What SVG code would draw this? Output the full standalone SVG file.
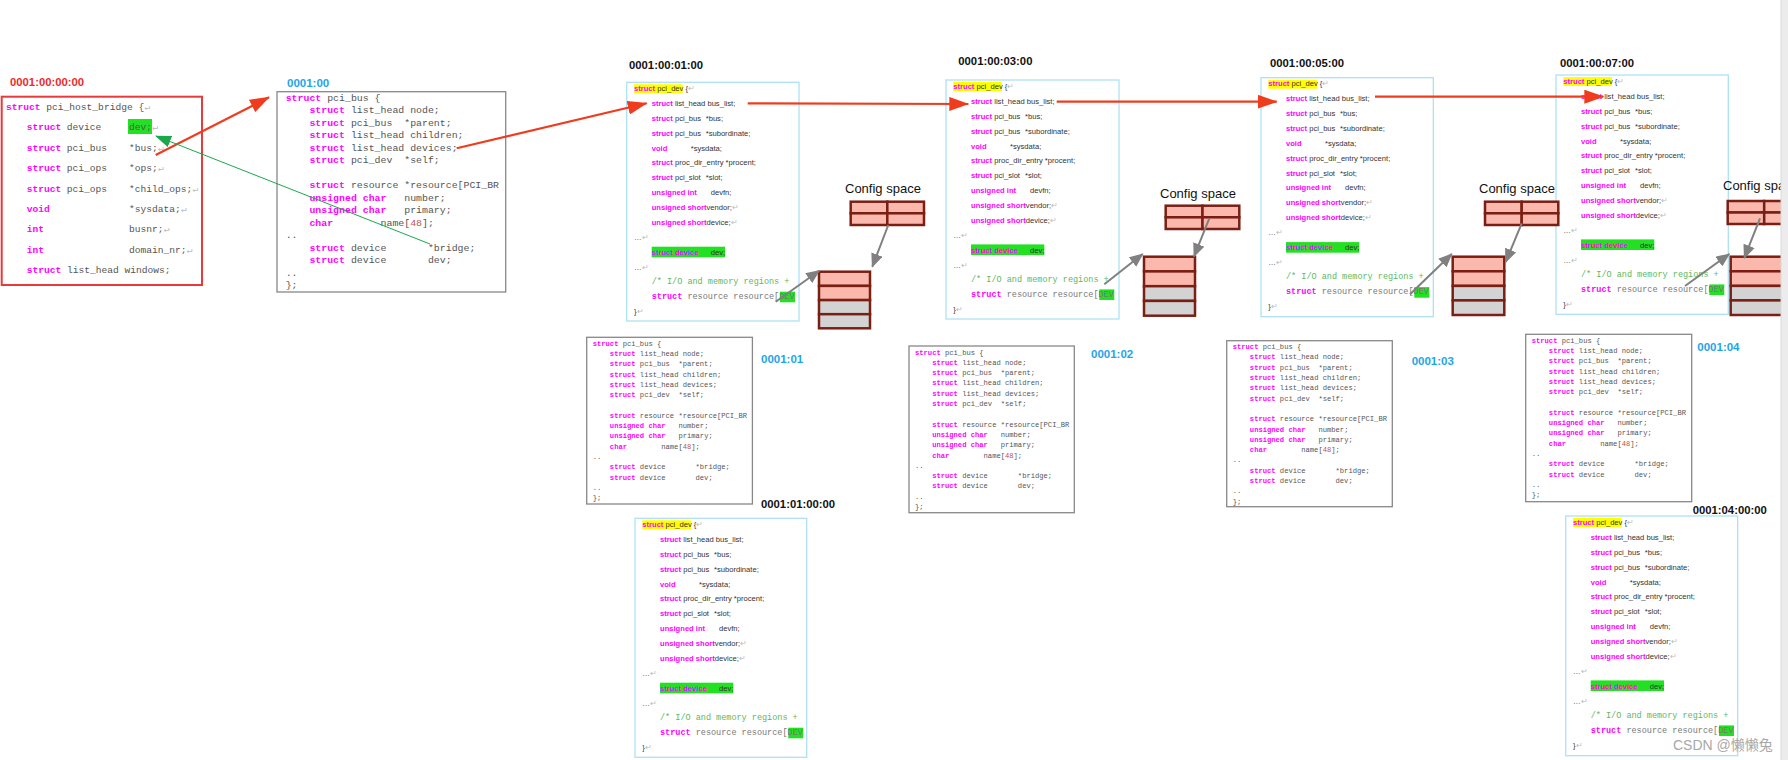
<svg xmlns="http://www.w3.org/2000/svg" width="1788" height="760" viewBox="0 0 1788 760" xml:space="preserve">
<defs>
<style>
text{white-space:pre}
.lbl{font-family:"Liberation Sans",Arial,sans-serif;font-weight:bold;font-size:11.3px;fill:#111}
.lblr{font-family:"Liberation Sans",Arial,sans-serif;font-weight:bold;font-size:11.3px;fill:#ee2a2a}
.lblb{font-family:"Liberation Sans",Arial,sans-serif;font-weight:bold;font-size:11.5px;fill:#1ea5e8}
.hb{font-family:"Liberation Mono",monospace;font-size:9.6px;fill:#555}
.mb{font-family:"Liberation Mono",monospace;font-size:9.9px;fill:#555}
.ms{font-family:"Liberation Mono",monospace;font-size:7.15px;fill:#555}
.sd{font-family:"Liberation Sans",Arial,sans-serif;font-size:7.6px;fill:#333}
.cm{font-family:"Liberation Mono",monospace;font-size:8.5px;fill:#5cb85c}
.rs{font-family:"Liberation Mono",monospace;font-size:8.5px;fill:#777}
.k{fill:#ff00ff;font-weight:bold}
.n{fill:#c0504d}
.rt{fill:#bbb;font-weight:normal}
.busbox{fill:#fff;stroke:#888;stroke-width:1.3}
.devbox{fill:#fff;stroke:#aee0f5;stroke-width:1.3}
.cfg{font-family:"Liberation Sans",Arial,sans-serif;font-size:13px;fill:#111}
.cell{fill:#fbb8ac;stroke:#7a1f14;stroke-width:2.5}
.gcell{fill:#d3d3d3;stroke:#7a1f14;stroke-width:2.5}
.red{stroke:#f03c1e;stroke-width:2.2;fill:none;marker-end:url(#ar)}
.grn{stroke:#1aa84b;stroke-width:1;fill:none;marker-end:url(#ag)}
.gry{stroke:#808080;stroke-width:2;fill:none;marker-end:url(#ay)}
</style>
<marker id="ar" markerUnits="userSpaceOnUse" markerWidth="20" markerHeight="14" refX="19" refY="7" orient="auto"><path d="M0,0 L20,7 L0,14 z" fill="#f03c1e"/></marker>
<marker id="ag" markerUnits="userSpaceOnUse" markerWidth="16" markerHeight="12" refX="15" refY="6" orient="auto"><path d="M0,0 L16,6 L0,12 z" fill="#1aa84b"/></marker>
<marker id="ay" markerUnits="userSpaceOnUse" markerWidth="14" markerHeight="12" refX="13" refY="6" orient="auto"><path d="M0,0 L14,6 L0,12 z" fill="#808080"/></marker>
</defs>
<rect width="1788" height="760" fill="#fff"/>

<g id="host-bridge">
<text class="lblr" x="10" y="85.5">0001:00:00:00</text>
<rect x="1.7" y="96.7" width="200.3" height="188.3" fill="#fff" stroke="#e83a3a" stroke-width="2"/>
<rect x="128" y="119" width="24" height="15" fill="#22e022"/>
<text class="hb" x="6" y="110.2"><tspan class="k">struct</tspan> pci_host_bridge {<tspan class="rt">↵</tspan></text>
<text class="hb" y="130.2"><tspan x="26.7" class="k">struct</tspan><tspan x="66.7">device</tspan><tspan x="129">dev;</tspan><tspan class="rt">↵</tspan></text>
<text class="hb" y="150.8"><tspan x="26.7" class="k">struct</tspan><tspan x="66.7">pci_bus</tspan><tspan x="129">*bus;</tspan><tspan class="rt">↵</tspan></text>
<text class="hb" y="171.2"><tspan x="26.7" class="k">struct</tspan><tspan x="66.7">pci_ops</tspan><tspan x="129">*ops;</tspan><tspan class="rt">↵</tspan></text>
<text class="hb" y="191.8"><tspan x="26.7" class="k">struct</tspan><tspan x="66.7">pci_ops</tspan><tspan x="129">*child_ops;</tspan><tspan class="rt">↵</tspan></text>
<text class="hb" y="211.8"><tspan x="26.7" class="k">void</tspan><tspan x="129">*sysdata;</tspan><tspan class="rt">↵</tspan></text>
<text class="hb" y="231.8"><tspan x="26.7" class="k">int</tspan><tspan x="129">busnr;</tspan><tspan class="rt">↵</tspan></text>
<text class="hb" y="252.5"><tspan x="26.7" class="k">int</tspan><tspan x="129">domain_nr;</tspan><tspan class="rt">↵</tspan></text>
<text class="hb" y="272.8"><tspan x="26.7" class="k">struct</tspan> list_head windows;</text>
</g>

<g id="bus-0001-00">
<text class="lblb" x="287" y="86.7">0001:00</text>
<g transform="translate(277,91.7)">
<rect class="busbox" width="228.7" height="200.3"/>
<text class="mb" x="8.7" y="9.5"><tspan class="k">struct</tspan> pci_bus {</text>
<text class="mb" x="8.7" y="21.8">    <tspan class="k">struct</tspan> list_head node;</text>
<text class="mb" x="8.7" y="34.3">    <tspan class="k">struct</tspan> pci_bus  *parent;</text>
<text class="mb" x="8.7" y="46.8">    <tspan class="k">struct</tspan> list_head children;</text>
<text class="mb" x="8.7" y="59.3">    <tspan class="k">struct</tspan> list_head devices;</text>
<text class="mb" x="8.7" y="71.8">    <tspan class="k">struct</tspan> pci_dev  *self;</text>
<text class="mb" x="8.7" y="96.8">    <tspan class="k">struct</tspan> resource *resource[PCI_BR</text>
<text class="mb" x="8.7" y="109.3">    <tspan class="k">unsigned char</tspan>   number;</text>
<text class="mb" x="8.7" y="121.8">    <tspan class="k">unsigned char</tspan>   primary;</text>
<text class="mb" x="8.7" y="134.3">    <tspan class="k">char</tspan>        name[<tspan class="n">48</tspan>];</text>
<text class="mb" x="8.7" y="146.8">..</text>
<text class="mb" x="8.7" y="159.3">    <tspan class="k">struct</tspan> device       *bridge;</text>
<text class="mb" x="8.7" y="171.8">    <tspan class="k">struct</tspan> device       dev;</text>
<text class="mb" x="8.7" y="184.3">..</text>
<text class="mb" x="8.7" y="196.8">};</text>
</g>
</g>

<!-- bottom pci_bus boxes -->
<g id="bus-0001-01">
<text class="lblb" x="761" y="363">0001:01</text>
<g transform="translate(586.7,337.3)">
<rect class="busbox" width="165.7" height="166.7"/>
<text class="ms" x="6" y="8.5"><tspan class="k">struct</tspan> pci_bus {</text>
<text class="ms" x="6" y="18.8">    <tspan class="k">struct</tspan> list_head node;</text>
<text class="ms" x="6" y="29.1">    <tspan class="k">struct</tspan> pci_bus  *parent;</text>
<text class="ms" x="6" y="39.4">    <tspan class="k">struct</tspan> list_head children;</text>
<text class="ms" x="6" y="49.7">    <tspan class="k">struct</tspan> list_head devices;</text>
<text class="ms" x="6" y="60">    <tspan class="k">struct</tspan> pci_dev  *self;</text>
<text class="ms" x="6" y="80.6">    <tspan class="k">struct</tspan> resource *resource[PCI_BR</text>
<text class="ms" x="6" y="90.9">    <tspan class="k">unsigned char</tspan>   number;</text>
<text class="ms" x="6" y="101.2">    <tspan class="k">unsigned char</tspan>   primary;</text>
<text class="ms" x="6" y="111.5">    <tspan class="k">char</tspan>        name[<tspan class="n">48</tspan>];</text>
<text class="ms" x="6" y="121.8">..</text>
<text class="ms" x="6" y="132.1">    <tspan class="k">struct</tspan> device       *bridge;</text>
<text class="ms" x="6" y="142.4">    <tspan class="k">struct</tspan> device       dev;</text>
<text class="ms" x="6" y="152.7">..</text>
<text class="ms" x="6" y="163">};</text>
</g>
</g>
<g id="bus-0001-02">
<text class="lblb" x="1091" y="357.5">0001:02</text>
<g transform="translate(909,346)">
<rect class="busbox" width="165.3" height="166.7"/>
<text class="ms" x="6" y="8.5"><tspan class="k">struct</tspan> pci_bus {</text>
<text class="ms" x="6" y="18.8">    <tspan class="k">struct</tspan> list_head node;</text>
<text class="ms" x="6" y="29.1">    <tspan class="k">struct</tspan> pci_bus  *parent;</text>
<text class="ms" x="6" y="39.4">    <tspan class="k">struct</tspan> list_head children;</text>
<text class="ms" x="6" y="49.7">    <tspan class="k">struct</tspan> list_head devices;</text>
<text class="ms" x="6" y="60">    <tspan class="k">struct</tspan> pci_dev  *self;</text>
<text class="ms" x="6" y="80.6">    <tspan class="k">struct</tspan> resource *resource[PCI_BR</text>
<text class="ms" x="6" y="90.9">    <tspan class="k">unsigned char</tspan>   number;</text>
<text class="ms" x="6" y="101.2">    <tspan class="k">unsigned char</tspan>   primary;</text>
<text class="ms" x="6" y="111.5">    <tspan class="k">char</tspan>        name[<tspan class="n">48</tspan>];</text>
<text class="ms" x="6" y="121.8">..</text>
<text class="ms" x="6" y="132.1">    <tspan class="k">struct</tspan> device       *bridge;</text>
<text class="ms" x="6" y="142.4">    <tspan class="k">struct</tspan> device       dev;</text>
<text class="ms" x="6" y="152.7">..</text>
<text class="ms" x="6" y="163">};</text>
</g>
</g>
<g id="bus-0001-03">
<text class="lblb" x="1411.7" y="365">0001:03</text>
<g transform="translate(1226.7,340.7)">
<rect class="busbox" width="165.6" height="166"/>
<text class="ms" x="6" y="8.5"><tspan class="k">struct</tspan> pci_bus {</text>
<text class="ms" x="6" y="18.8">    <tspan class="k">struct</tspan> list_head node;</text>
<text class="ms" x="6" y="29.1">    <tspan class="k">struct</tspan> pci_bus  *parent;</text>
<text class="ms" x="6" y="39.4">    <tspan class="k">struct</tspan> list_head children;</text>
<text class="ms" x="6" y="49.7">    <tspan class="k">struct</tspan> list_head devices;</text>
<text class="ms" x="6" y="60">    <tspan class="k">struct</tspan> pci_dev  *self;</text>
<text class="ms" x="6" y="80.6">    <tspan class="k">struct</tspan> resource *resource[PCI_BR</text>
<text class="ms" x="6" y="90.9">    <tspan class="k">unsigned char</tspan>   number;</text>
<text class="ms" x="6" y="101.2">    <tspan class="k">unsigned char</tspan>   primary;</text>
<text class="ms" x="6" y="111.5">    <tspan class="k">char</tspan>        name[<tspan class="n">48</tspan>];</text>
<text class="ms" x="6" y="121.8">..</text>
<text class="ms" x="6" y="132.1">    <tspan class="k">struct</tspan> device       *bridge;</text>
<text class="ms" x="6" y="142.4">    <tspan class="k">struct</tspan> device       dev;</text>
<text class="ms" x="6" y="152.7">..</text>
<text class="ms" x="6" y="163">};</text>
</g>
</g>
<g id="bus-0001-04">
<text class="lblb" x="1697.3" y="351.3">0001:04</text>
<g transform="translate(1525.7,334.3)">
<rect class="busbox" width="166" height="167.4"/>
<text class="ms" x="6" y="8.5"><tspan class="k">struct</tspan> pci_bus {</text>
<text class="ms" x="6" y="18.8">    <tspan class="k">struct</tspan> list_head node;</text>
<text class="ms" x="6" y="29.1">    <tspan class="k">struct</tspan> pci_bus  *parent;</text>
<text class="ms" x="6" y="39.4">    <tspan class="k">struct</tspan> list_head children;</text>
<text class="ms" x="6" y="49.7">    <tspan class="k">struct</tspan> list_head devices;</text>
<text class="ms" x="6" y="60">    <tspan class="k">struct</tspan> pci_dev  *self;</text>
<text class="ms" x="6" y="80.6">    <tspan class="k">struct</tspan> resource *resource[PCI_BR</text>
<text class="ms" x="6" y="90.9">    <tspan class="k">unsigned char</tspan>   number;</text>
<text class="ms" x="6" y="101.2">    <tspan class="k">unsigned char</tspan>   primary;</text>
<text class="ms" x="6" y="111.5">    <tspan class="k">char</tspan>        name[<tspan class="n">48</tspan>];</text>
<text class="ms" x="6" y="121.8">..</text>
<text class="ms" x="6" y="132.1">    <tspan class="k">struct</tspan> device       *bridge;</text>
<text class="ms" x="6" y="142.4">    <tspan class="k">struct</tspan> device       dev;</text>
<text class="ms" x="6" y="152.7">..</text>
<text class="ms" x="6" y="163">};</text>
</g>
</g>

<!-- pci_dev blocks -->
<g id="dev-0001-00-01-00">
<text class="lbl" x="629" y="69">0001:00:01:00</text>
<g transform="translate(626.7,82.3)">
<rect class="devbox" width="172.3" height="238.7"/>
<rect x="7.3" y="2" width="48.7" height="9" fill="#ffff00"/>
<rect x="25" y="164.4" width="73.3" height="10.6" fill="#22e022"/>
<rect x="153.3" y="209.4" width="15" height="10.6" fill="#22e022"/>
<text class="sd" x="7.3" y="8.7"><tspan class="k" font-weight="normal">struct</tspan> pci_dev {<tspan class="rt">↵</tspan></text>
<text class="sd" x="25" y="23.7"><tspan class="k">struct</tspan> list_head bus_list;</text>
<text class="sd" y="38.7"><tspan x="25" class="k">struct</tspan> pci_bus<tspan x="79">*bus;</tspan></text>
<text class="sd" y="53.7"><tspan x="25" class="k">struct</tspan> pci_bus<tspan x="79">*subordinate;</tspan></text>
<text class="sd" y="68.7"><tspan x="25" class="k">void</tspan><tspan x="64">*sysdata;</tspan></text>
<text class="sd" x="25" y="83.2"><tspan class="k">struct</tspan> proc_dir_entry *procent;</text>
<text class="sd" y="98.2"><tspan x="25" class="k">struct</tspan> pci_slot<tspan x="79">*slot;</tspan></text>
<text class="sd" y="112.7"><tspan x="25" class="k">unsigned int</tspan><tspan x="84">devfn;</tspan></text>
<text class="sd" x="25" y="127.7"><tspan class="k">unsigned short</tspan>vendor;<tspan class="rt">↵</tspan></text>
<text class="sd" x="25" y="142.7"><tspan class="k">unsigned short</tspan>device;<tspan class="rt">↵</tspan></text>
<text class="sd" x="7.3" y="157.7">…<tspan class="rt">↵</tspan></text>
<text class="sd" y="172.7"><tspan x="25" class="k">struct device</tspan><tspan x="84">dev;</tspan></text>
<text class="sd" x="7.3" y="187.7">…<tspan class="rt">↵</tspan></text>
<text class="cm" x="25" y="201.7">/* I/O and memory regions +</text>
<text class="rs" x="25" y="216.7"><tspan class="k">struct</tspan> resource resource[DEV</text>
<text class="sd" x="7.3" y="231.7">}<tspan class="rt">↵</tspan></text>
</g>
</g>
<g id="dev-0001-00-03-00">
<text class="lbl" x="958.3" y="65">0001:00:03:00</text>
<g transform="translate(946,80)">
<rect class="devbox" width="173" height="239"/>
<rect x="7.3" y="2" width="48.7" height="9" fill="#ffff00"/>
<rect x="25" y="164.4" width="73.3" height="10.6" fill="#22e022"/>
<rect x="153.3" y="209.4" width="15" height="10.6" fill="#22e022"/>
<text class="sd" x="7.3" y="8.7"><tspan class="k" font-weight="normal">struct</tspan> pci_dev {<tspan class="rt">↵</tspan></text>
<text class="sd" x="25" y="23.7"><tspan class="k">struct</tspan> list_head bus_list;</text>
<text class="sd" y="38.7"><tspan x="25" class="k">struct</tspan> pci_bus<tspan x="79">*bus;</tspan></text>
<text class="sd" y="53.7"><tspan x="25" class="k">struct</tspan> pci_bus<tspan x="79">*subordinate;</tspan></text>
<text class="sd" y="68.7"><tspan x="25" class="k">void</tspan><tspan x="64">*sysdata;</tspan></text>
<text class="sd" x="25" y="83.2"><tspan class="k">struct</tspan> proc_dir_entry *procent;</text>
<text class="sd" y="98.2"><tspan x="25" class="k">struct</tspan> pci_slot<tspan x="79">*slot;</tspan></text>
<text class="sd" y="112.7"><tspan x="25" class="k">unsigned int</tspan><tspan x="84">devfn;</tspan></text>
<text class="sd" x="25" y="127.7"><tspan class="k">unsigned short</tspan>vendor;<tspan class="rt">↵</tspan></text>
<text class="sd" x="25" y="142.7"><tspan class="k">unsigned short</tspan>device;<tspan class="rt">↵</tspan></text>
<text class="sd" x="7.3" y="157.7">…<tspan class="rt">↵</tspan></text>
<text class="sd" y="172.7"><tspan x="25" class="k">struct device</tspan><tspan x="84">dev;</tspan></text>
<text class="sd" x="7.3" y="187.7">…<tspan class="rt">↵</tspan></text>
<text class="cm" x="25" y="201.7">/* I/O and memory regions +</text>
<text class="rs" x="25" y="216.7"><tspan class="k">struct</tspan> resource resource[DEV</text>
<text class="sd" x="7.3" y="231.7">}<tspan class="rt">↵</tspan></text>
</g>
</g>
<g id="dev-0001-00-05-00">
<text class="lbl" x="1270" y="66.7">0001:00:05:00</text>
<g transform="translate(1261,77.7)">
<rect class="devbox" width="172.3" height="239"/>
<rect x="7.3" y="2" width="48.7" height="9" fill="#ffff00"/>
<rect x="25" y="164.4" width="73.3" height="10.6" fill="#22e022"/>
<rect x="153.3" y="209.4" width="15" height="10.6" fill="#22e022"/>
<text class="sd" x="7.3" y="8.7"><tspan class="k" font-weight="normal">struct</tspan> pci_dev {<tspan class="rt">↵</tspan></text>
<text class="sd" x="25" y="23.7"><tspan class="k">struct</tspan> list_head bus_list;</text>
<text class="sd" y="38.7"><tspan x="25" class="k">struct</tspan> pci_bus<tspan x="79">*bus;</tspan></text>
<text class="sd" y="53.7"><tspan x="25" class="k">struct</tspan> pci_bus<tspan x="79">*subordinate;</tspan></text>
<text class="sd" y="68.7"><tspan x="25" class="k">void</tspan><tspan x="64">*sysdata;</tspan></text>
<text class="sd" x="25" y="83.2"><tspan class="k">struct</tspan> proc_dir_entry *procent;</text>
<text class="sd" y="98.2"><tspan x="25" class="k">struct</tspan> pci_slot<tspan x="79">*slot;</tspan></text>
<text class="sd" y="112.7"><tspan x="25" class="k">unsigned int</tspan><tspan x="84">devfn;</tspan></text>
<text class="sd" x="25" y="127.7"><tspan class="k">unsigned short</tspan>vendor;<tspan class="rt">↵</tspan></text>
<text class="sd" x="25" y="142.7"><tspan class="k">unsigned short</tspan>device;<tspan class="rt">↵</tspan></text>
<text class="sd" x="7.3" y="157.7">…<tspan class="rt">↵</tspan></text>
<text class="sd" y="172.7"><tspan x="25" class="k">struct device</tspan><tspan x="84">dev;</tspan></text>
<text class="sd" x="7.3" y="187.7">…<tspan class="rt">↵</tspan></text>
<text class="cm" x="25" y="201.7">/* I/O and memory regions +</text>
<text class="rs" x="25" y="216.7"><tspan class="k">struct</tspan> resource resource[DEV</text>
<text class="sd" x="7.3" y="231.7">}<tspan class="rt">↵</tspan></text>
</g>
</g>
<g id="dev-0001-00-07-00">
<text class="lbl" x="1560" y="66.7">0001:00:07:00</text>
<g transform="translate(1556,75)">
<rect class="devbox" width="172.3" height="239.3"/>
<rect x="7.3" y="2" width="48.7" height="9" fill="#ffff00"/>
<rect x="25" y="164.4" width="73.3" height="10.6" fill="#22e022"/>
<rect x="153.3" y="209.4" width="15" height="10.6" fill="#22e022"/>
<text class="sd" x="7.3" y="8.7"><tspan class="k" font-weight="normal">struct</tspan> pci_dev {<tspan class="rt">↵</tspan></text>
<text class="sd" x="25" y="23.7"><tspan class="k">struct</tspan> list_head bus_list;</text>
<text class="sd" y="38.7"><tspan x="25" class="k">struct</tspan> pci_bus<tspan x="79">*bus;</tspan></text>
<text class="sd" y="53.7"><tspan x="25" class="k">struct</tspan> pci_bus<tspan x="79">*subordinate;</tspan></text>
<text class="sd" y="68.7"><tspan x="25" class="k">void</tspan><tspan x="64">*sysdata;</tspan></text>
<text class="sd" x="25" y="83.2"><tspan class="k">struct</tspan> proc_dir_entry *procent;</text>
<text class="sd" y="98.2"><tspan x="25" class="k">struct</tspan> pci_slot<tspan x="79">*slot;</tspan></text>
<text class="sd" y="112.7"><tspan x="25" class="k">unsigned int</tspan><tspan x="84">devfn;</tspan></text>
<text class="sd" x="25" y="127.7"><tspan class="k">unsigned short</tspan>vendor;<tspan class="rt">↵</tspan></text>
<text class="sd" x="25" y="142.7"><tspan class="k">unsigned short</tspan>device;<tspan class="rt">↵</tspan></text>
<text class="sd" x="7.3" y="157.7">…<tspan class="rt">↵</tspan></text>
<text class="sd" y="172.7"><tspan x="25" class="k">struct device</tspan><tspan x="84">dev;</tspan></text>
<text class="sd" x="7.3" y="187.7">…<tspan class="rt">↵</tspan></text>
<text class="cm" x="25" y="201.7">/* I/O and memory regions +</text>
<text class="rs" x="25" y="216.7"><tspan class="k">struct</tspan> resource resource[DEV</text>
<text class="sd" x="7.3" y="231.7">}<tspan class="rt">↵</tspan></text>
</g>
</g>
<g id="dev-0001-01-00-00">
<text class="lbl" x="761" y="508">0001:01:00:00</text>
<g transform="translate(635,518.3)">
<rect class="devbox" width="171.7" height="239"/>
<rect x="7.3" y="2" width="48.7" height="9" fill="#ffff00"/>
<rect x="25" y="164.4" width="73.3" height="10.6" fill="#22e022"/>
<rect x="153.3" y="209.4" width="15" height="10.6" fill="#22e022"/>
<text class="sd" x="7.3" y="8.7"><tspan class="k" font-weight="normal">struct</tspan> pci_dev {<tspan class="rt">↵</tspan></text>
<text class="sd" x="25" y="23.7"><tspan class="k">struct</tspan> list_head bus_list;</text>
<text class="sd" y="38.7"><tspan x="25" class="k">struct</tspan> pci_bus<tspan x="79">*bus;</tspan></text>
<text class="sd" y="53.7"><tspan x="25" class="k">struct</tspan> pci_bus<tspan x="79">*subordinate;</tspan></text>
<text class="sd" y="68.7"><tspan x="25" class="k">void</tspan><tspan x="64">*sysdata;</tspan></text>
<text class="sd" x="25" y="83.2"><tspan class="k">struct</tspan> proc_dir_entry *procent;</text>
<text class="sd" y="98.2"><tspan x="25" class="k">struct</tspan> pci_slot<tspan x="79">*slot;</tspan></text>
<text class="sd" y="112.7"><tspan x="25" class="k">unsigned int</tspan><tspan x="84">devfn;</tspan></text>
<text class="sd" x="25" y="127.7"><tspan class="k">unsigned short</tspan>vendor;<tspan class="rt">↵</tspan></text>
<text class="sd" x="25" y="142.7"><tspan class="k">unsigned short</tspan>device;<tspan class="rt">↵</tspan></text>
<text class="sd" x="7.3" y="157.7">…<tspan class="rt">↵</tspan></text>
<text class="sd" y="172.7"><tspan x="25" class="k">struct device</tspan><tspan x="84">dev;</tspan></text>
<text class="sd" x="7.3" y="187.7">…<tspan class="rt">↵</tspan></text>
<text class="cm" x="25" y="201.7">/* I/O and memory regions +</text>
<text class="rs" x="25" y="216.7"><tspan class="k">struct</tspan> resource resource[DEV</text>
<text class="sd" x="7.3" y="231.7">}<tspan class="rt">↵</tspan></text>
</g>
</g>
<g id="dev-0001-04-00-00">
<text class="lbl" x="1692.7" y="514">0001:04:00:00</text>
<g transform="translate(1565.7,516)">
<rect class="devbox" width="172" height="239.7"/>
<rect x="7.3" y="2" width="48.7" height="9" fill="#ffff00"/>
<rect x="25" y="164.4" width="73.3" height="10.6" fill="#22e022"/>
<rect x="153.3" y="209.4" width="15" height="10.6" fill="#22e022"/>
<text class="sd" x="7.3" y="8.7"><tspan class="k" font-weight="normal">struct</tspan> pci_dev {<tspan class="rt">↵</tspan></text>
<text class="sd" x="25" y="23.7"><tspan class="k">struct</tspan> list_head bus_list;</text>
<text class="sd" y="38.7"><tspan x="25" class="k">struct</tspan> pci_bus<tspan x="79">*bus;</tspan></text>
<text class="sd" y="53.7"><tspan x="25" class="k">struct</tspan> pci_bus<tspan x="79">*subordinate;</tspan></text>
<text class="sd" y="68.7"><tspan x="25" class="k">void</tspan><tspan x="64">*sysdata;</tspan></text>
<text class="sd" x="25" y="83.2"><tspan class="k">struct</tspan> proc_dir_entry *procent;</text>
<text class="sd" y="98.2"><tspan x="25" class="k">struct</tspan> pci_slot<tspan x="79">*slot;</tspan></text>
<text class="sd" y="112.7"><tspan x="25" class="k">unsigned int</tspan><tspan x="84">devfn;</tspan></text>
<text class="sd" x="25" y="127.7"><tspan class="k">unsigned short</tspan>vendor;<tspan class="rt">↵</tspan></text>
<text class="sd" x="25" y="142.7"><tspan class="k">unsigned short</tspan>device;<tspan class="rt">↵</tspan></text>
<text class="sd" x="7.3" y="157.7">…<tspan class="rt">↵</tspan></text>
<text class="sd" y="172.7"><tspan x="25" class="k">struct device</tspan><tspan x="84">dev;</tspan></text>
<text class="sd" x="7.3" y="187.7">…<tspan class="rt">↵</tspan></text>
<text class="cm" x="25" y="201.7">/* I/O and memory regions +</text>
<text class="rs" x="25" y="216.7"><tspan class="k">struct</tspan> resource resource[DEV</text>
<text class="sd" x="7.3" y="231.7">}<tspan class="rt">↵</tspan></text>
</g>
</g>

<!-- config spaces -->
<g id="config-1">
<text class="cfg" x="845" y="193">Config space</text>
<rect class="cell" x="850.7" y="201.7" width="36.6" height="11.6"/><rect class="cell" x="887.3" y="201.7" width="36.7" height="11.6"/>
<rect class="cell" x="850.7" y="213.3" width="36.6" height="11.7"/><rect class="cell" x="887.3" y="213.3" width="36.7" height="11.7"/>
<rect class="cell" x="819" y="271.7" width="51" height="14.2"/><rect class="cell" x="819" y="285.9" width="51" height="14.2"/>
<rect class="gcell" x="819" y="300.1" width="51" height="14.1"/><rect class="gcell" x="819" y="314.2" width="51" height="14.1"/>
</g>
<g id="config-2">
<text class="cfg" x="1160" y="198.3">Config space</text>
<rect class="cell" x="1165.7" y="205.7" width="36.8" height="11.6"/><rect class="cell" x="1202.5" y="205.7" width="36.8" height="11.6"/>
<rect class="cell" x="1165.7" y="217.3" width="36.8" height="11.7"/><rect class="cell" x="1202.5" y="217.3" width="36.8" height="11.7"/>
<rect class="cell" x="1144" y="256.7" width="51" height="14.7"/><rect class="cell" x="1144" y="271.4" width="51" height="14.8"/>
<rect class="gcell" x="1144" y="286.2" width="51" height="14.7"/><rect class="gcell" x="1144" y="300.9" width="51" height="14.8"/>
</g>
<g id="config-3">
<text class="cfg" x="1479" y="193.3">Config space</text>
<rect class="cell" x="1485" y="201.7" width="36.7" height="11.6"/><rect class="cell" x="1521.7" y="201.7" width="36.6" height="11.6"/>
<rect class="cell" x="1485" y="213.3" width="36.7" height="11.7"/><rect class="cell" x="1521.7" y="213.3" width="36.6" height="11.7"/>
<rect class="cell" x="1452.7" y="256.7" width="51.6" height="14.6"/><rect class="cell" x="1452.7" y="271.3" width="51.6" height="14.6"/>
<rect class="gcell" x="1452.7" y="285.9" width="51.6" height="14.5"/><rect class="gcell" x="1452.7" y="300.4" width="51.6" height="14.6"/>
</g>
<g id="config-4">
<text class="cfg" x="1723" y="190">Config space</text>
<rect class="cell" x="1727.7" y="201" width="36.5" height="11.5"/><rect class="cell" x="1764.2" y="201" width="36.5" height="11.5"/>
<rect class="cell" x="1727.7" y="212.5" width="36.5" height="11.5"/><rect class="cell" x="1764.2" y="212.5" width="36.5" height="11.5"/>
<rect class="cell" x="1730.7" y="256.7" width="51.6" height="14.6"/><rect class="cell" x="1730.7" y="271.3" width="51.6" height="14.6"/>
<rect class="gcell" x="1730.7" y="285.9" width="51.6" height="14.5"/><rect class="gcell" x="1730.7" y="300.4" width="51.6" height="14.6"/>
</g>

<g id="connectors">
<line class="red" x1="155.7" y1="155" x2="269" y2="97.3"/>
<line class="red" x1="456.7" y1="148.3" x2="646.7" y2="103.3"/>
<line class="red" x1="747.7" y1="103.3" x2="968.3" y2="104"/>
<line class="red" x1="1056.7" y1="101.7" x2="1276.7" y2="101.7"/>
<line class="red" x1="1375" y1="96.7" x2="1603.3" y2="96.7"/>
<line class="grn" x1="430" y1="244" x2="156" y2="136"/>
<line class="gry" x1="888.3" y1="225" x2="872.3" y2="266.7"/>
<line class="gry" x1="775.7" y1="301.7" x2="819.3" y2="270.7"/>
<line class="gry" x1="1209.3" y1="218.3" x2="1194" y2="256.5"/>
<line class="gry" x1="1104.3" y1="284.3" x2="1142.7" y2="254"/>
<line class="gry" x1="1521.7" y1="223.3" x2="1505.7" y2="262"/>
<line class="gry" x1="1410" y1="294.3" x2="1451.7" y2="254"/>
<line class="gry" x1="1760" y1="218.3" x2="1744.3" y2="258"/>
<line class="gry" x1="1685" y1="286" x2="1729.3" y2="254"/>
</g>

<rect x="1781" y="0" width="7" height="760" fill="#ececec"/>
<line x1="1781" y1="0" x2="1781" y2="760" stroke="#dadada"/>
<text x="1673" y="750" font-family="'Liberation Sans','Noto Sans CJK SC',sans-serif" font-size="14" fill="#a8a8a8">CSDN @懒懒兔</text>
</svg>
